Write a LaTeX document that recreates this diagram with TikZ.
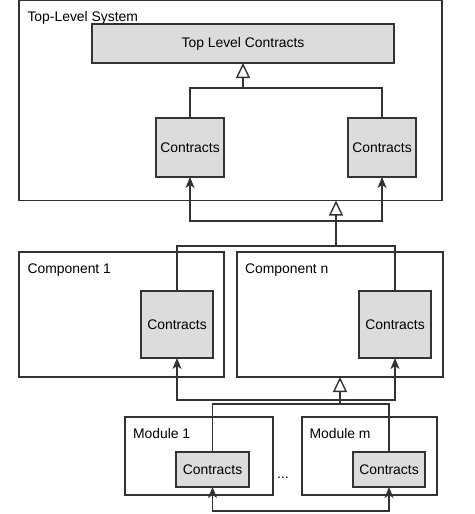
\documentclass[tikz,border=0pt]{standalone}
\usepackage{fontspec}
\setmainfont{Liberation Sans}
\usetikzlibrary{arrows.meta}
\definecolor{ln}{HTML}{333333}
\definecolor{fl}{HTML}{DCDCDC}
\begin{document}
\begin{tikzpicture}[x=1pt,y=-1pt,
  font=\fontsize{13.9}{16}\selectfont,
  every node/.style={inner sep=0pt,outer sep=0pt},
  cont/.style={draw=ln,line width=1.4pt,rectangle},
  ctr/.style={draw=ln,fill=fl,line width=1.4pt,rectangle},
  lbl/.style={anchor=base west},
  conn/.style={draw=ln,line width=1.4pt},
  gen/.style={conn,-{Triangle[open,width=14pt,length=15pt,line width=1.4pt]}},
  use/.style={conn,-{Stealth[width=9pt,length=11pt,inset=3pt]}}]
\useasboundingbox (0,0) rectangle (474,514);
\fill[white] (0,0) rectangle (474,514);
% containers
\node[cont,minimum width=423pt,minimum height=200pt] (tls) at (230.5,100.5) {};
\node[lbl] (tlsl) at (27.5,21.5) {Top-Level System};
\node[cont,minimum width=205pt,minimum height=125pt] (c1) at (121.5,314.5) {};
\node[lbl] (c1l) at (27.5,273.5) {Component 1};
\node[cont,minimum width=206pt,minimum height=125pt] (cn) at (340,314.5) {};
\node[lbl] (cnl) at (245,273.5) {Component n};
\node[cont,minimum width=148pt,minimum height=78pt] (m1) at (199,456) {};
\node[lbl] (m1l) at (133,438) {Module 1};
\node[cont,minimum width=135pt,minimum height=78pt] (mm) at (369.5,456) {};
\node[lbl] (mml) at (309.5,438) {Module m};
\node (dots) at (283,478) {...};
% contracts
\node[ctr,minimum width=302pt,minimum height=39pt] (tlc) at (243,43.5) {Top Level Contracts};
\node[ctr,minimum width=68pt,minimum height=59pt] (k1) at (190,147.5) {Contracts};
\node[ctr,minimum width=68pt,minimum height=59pt] (k2) at (382,147.5) {Contracts};
\node[ctr,minimum width=72pt,minimum height=67pt] (kc1) at (177,324.5) {Contracts};
\node[ctr,minimum width=72pt,minimum height=67pt] (kcn) at (395,324.5) {Contracts};
\node[ctr,minimum width=73pt,minimum height=35pt] (km1) at (212.5,469.5) {Contracts};
\node[ctr,minimum width=72pt,minimum height=35pt] (kmm) at (389,469.5) {Contracts};
% junctions
\coordinate (j1) at (243,88);
\coordinate (j2) at (336,246);
\coordinate (j3) at (336,221);
\coordinate (j4) at (340,404);
\coordinate (j5) at (340,400);
\coordinate (j6) at (300,511);
% connectors
\draw[conn] (k1.north) |- (j1) -| (k2.north);
\draw[gen] (j1) -- (tlc.south);
\draw[conn] (kc1.north) |- (j2) -| (kcn.north);
\draw[gen] (j2) -- (j2 |- tls.south);
\draw[use] (j3) -| (k1.south);
\draw[use] (j3) -| (k2.south);
\draw[conn] (km1.north) |- (j4) -| (kmm.north);
\draw[gen] (j4) -- (j4 |- cn.south);
\draw[use] (j5) -| (kc1.south);
\draw[use] (j5) -| (kcn.south);
\draw[use] (j6) -| (km1.south);
\draw[use] (j6) -| (kmm.south);
\end{tikzpicture}
\end{document}
